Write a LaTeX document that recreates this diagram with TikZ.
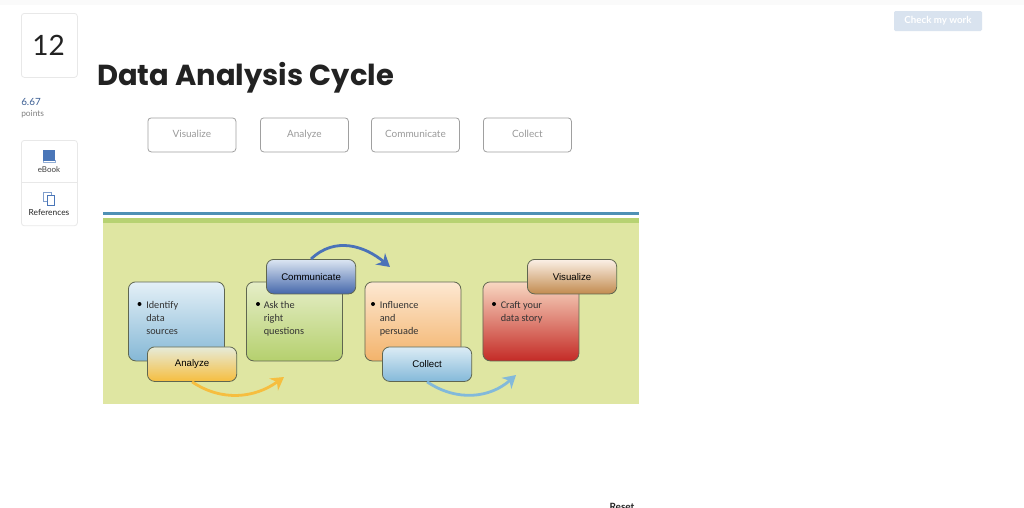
\documentclass[tikz,border=0pt]{standalone}
\usepackage{fontspec}
\setmainfont{Lato}
\newfontfamily\arialf{Liberation Sans}
\newfontfamily\slidef{Carlito}
\newfontfamily\titlef{Poppins}
\usetikzlibrary{arrows.meta}
\definecolor{inkdark}{HTML}{222222}
\definecolor{cardline}{HTML}{E8E8E8}
\definecolor{btnline}{HTML}{A0A0A0}
\definecolor{btntext}{HTML}{9A9A9A}
\definecolor{iconblue}{HTML}{4A76B8}
\definecolor{checkfill}{HTML}{D9E3EF}
\definecolor{ruleblue}{HTML}{4F91B4}
\definecolor{rulegreen}{HTML}{B7D272}
\definecolor{panel}{HTML}{DFE6A2}
\definecolor{boxline}{HTML}{5F6650}
\definecolor{blueT}{HTML}{E4F0F7}\definecolor{blueB}{HTML}{85B8D6}
\definecolor{greenT}{HTML}{E6EEC8}\definecolor{greenB}{HTML}{B5D06E}
\definecolor{orangeT}{HTML}{FDE8D2}\definecolor{orangeB}{HTML}{F3B36B}
\definecolor{redT}{HTML}{F8D8C2}\definecolor{redB}{HTML}{C42B26}
\definecolor{anaT}{HTML}{E6EBD9}\definecolor{anaB}{HTML}{F6BE3F}
\definecolor{comT}{HTML}{DCE6F2}\definecolor{comB}{HTML}{4567AB}
\definecolor{colT}{HTML}{DCECF5}\definecolor{colB}{HTML}{84B9D9}
\definecolor{visT}{HTML}{FBF0E6}\definecolor{visB}{HTML}{C28B4F}
\definecolor{arrowA}{HTML}{F6BE3F}
\definecolor{arrowB}{HTML}{4A72B8}
\definecolor{arrowC}{HTML}{82B9DA}
\tikzset{
  x=0.75pt,y=-0.75pt,
  card/.style={draw=cardline,fill=white,rounded corners=2.2pt,line width=0.6pt,inner sep=0pt,anchor=north west,minimum width=42pt},
  choice/.style={draw=btnline,fill=white,rounded corners=2.5pt,line width=0.6pt,anchor=north west,inner sep=0pt,minimum width=66pt,minimum height=25.5pt,text=btntext,text height=6pt,text depth=2pt,font=\fontsize{7.5}{8}\selectfont},
  tag/.style 2 args={draw=boxline,top color=#1,bottom color=#2,rounded corners=5.5pt,line width=0.6pt,inner sep=0pt,anchor=north west,minimum width=67pt,minimum height=25.9pt,text=black,font=\arialf\fontsize{7.25}{8}\selectfont},
  bigbox/.style 2 args={draw=boxline,top color=#1,bottom color=#2,rounded corners=5.5pt,line width=0.6pt,inner sep=0pt,anchor=north west,minimum width=72pt,minimum height=59.25pt},
  bodytext/.style={anchor=north west,inner sep=0pt,align=left,text=black!80,font=\slidef\fontsize{7.7}{9.75}\selectfont},
  dot/.style={circle,fill=black,inner sep=0pt,minimum size=3pt},
  sweep/.style={line width=2.1pt,-{Stealth[length=9.5pt,width=11pt,inset=3pt]}},
}
\begin{document}
\begin{tikzpicture}
\useasboundingbox (0,0) rectangle (1024,507);
\clip (0,0) rectangle (1024,507);
\fill[white] (0,0) rectangle (1024,507);
\fill[black!2] (0,0) rectangle (1024,5);
% sidebar
\node[card,minimum height=48pt] (qcard) at (21,13) {};
\node[text=inkdark,font=\fontsize{21}{24}\selectfont] (qnum) at (48.5,45.5) {12};
\node[anchor=west,inner sep=0pt,text=iconblue!80!black,font=\fontsize{7.4}{8}\selectfont] (pts) at (21,102) {6.67};
\node[anchor=west,inner sep=0pt,text=black!50,font=\fontsize{6.3}{7}\selectfont] (ptsl) at (21,114) {points};
\node[card,minimum height=64pt] (sidecard) at (21,140) {};
\coordinate (divL) at (21,182.5);
\coordinate (divR) at (77,182.5);
\draw[cardline,line width=0.6pt] (divL) -- (divR);
\fill[iconblue] (43,149.5) rectangle (55,160.5);
\draw[iconblue!60,line width=0.6pt] (43.5,160.5) -- (43.5,162.5) -- (55,162.5) -- (55,160);
\node[text=black!75,font=\fontsize{6}{7}\selectfont] (ebook) at (49,169.5) {eBook};
\draw[iconblue!70,line width=0.7pt,fill=white] (43.5,192) rectangle (51,201);
\draw[iconblue,line width=0.7pt,fill=white] (47,195) rectangle (54.5,205);
\node[text=black!85,font=\fontsize{6.3}{7}\selectfont] (refs) at (49,212) {References};
% header
\node[anchor=west,inner sep=0pt,text=inkdark,font=\titlef\fontsize{21.7}{26}\selectfont\bfseries] (title) at (97,78) {Data Analysis Cycle};
\node[fill=checkfill,inner sep=0pt,rounded corners=1pt,minimum width=66pt,minimum height=15pt,text=white,font=\fontsize{7.3}{8}\selectfont\bfseries] (check) at (938,21) {Check my work};
\node[anchor=north,inner sep=0pt,text=inkdark,font=\fontsize{7.5}{9}\selectfont\bfseries] (reset) at (622,503) {Reset};
% choices
\node[choice] (c1) at (147.5,117.5) {Visualize};
\node[choice] (c2) at (260,117.5) {Analyze};
\node[choice] (c3) at (371,117.5) {Communicate};
\node[choice] (c4) at (483,117.5) {Collect};
% panel
\fill[ruleblue] (103,212) rectangle (639,215);
\fill[rulegreen] (103,218) rectangle (639,223);
\fill[panel] (103,223) rectangle (639,404);
% big boxes
\node[bigbox={blueT}{blueB}] (bb1) at (128,281.5) {};
\node[bigbox={greenT}{greenB}] (bb2) at (246,281.5) {};
\node[bigbox={orangeT}{orangeB}] (bb3) at (364.5,281.5) {};
\node[bigbox={redT}{redB}] (bb4) at (482.5,281.5) {};
% body text
\node[dot] (d1) at (139.5,304) {};
\node[bodytext] (t1) at (146,301.5) {Identify\\data\\sources};
\node[dot] (d2) at (258,304) {};
\node[bodytext] (t2) at (263.5,301.5) {Ask the\\right\\questions};
\node[dot] (d3) at (373,304) {};
\node[bodytext] (t3) at (379.5,301.5) {Influence\\and\\persuade};
\node[dot] (d4) at (494,304) {};
\node[bodytext] (t4) at (500.5,301.5) {Craft your\\data story};
% tags
\node[tag={anaT}{anaB}] (analyze) at (147,346.5) {Analyze};
\node[tag={comT}{comB}] (communicate) at (266,259) {Communicate};
\node[tag={colT}{colB}] (collect) at (382,346.5) {Collect};
\node[tag={visT}{visB}] (visualize) at (527,259) {Visualize};
% arrow ends
\coordinate (endA) at (284,377);
\coordinate (endB) at (390,267);
\coordinate (endC) at (516,375);
% connectors
\draw[sweep,arrowA] (analyze.south) .. controls (222,402) and (255,398) .. (endA);
\draw[sweep,arrowB] (communicate.north) .. controls (335,236) and (365,246) .. (endB);
\draw[sweep,arrowC] (collect.south) .. controls (457,402) and (490,398) .. (endC);
\end{tikzpicture}
\end{document}
